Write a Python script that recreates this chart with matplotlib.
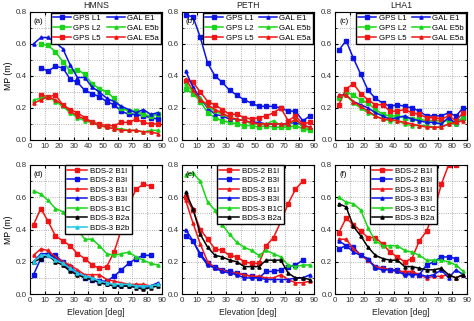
import matplotlib.pyplot as plt
from matplotlib.ticker import MultipleLocator

elev = [2.5, 7.5, 12.5, 17.5, 22.5, 27.5, 32.5, 37.5, 42.5, 47.5,
        52.5, 57.5, 62.5, 67.5, 72.5, 77.5, 82.5, 87.5]

# HMNS (a)
hmns_gps_l1 = [None, 0.45, 0.43, 0.46, 0.45, 0.38, 0.36, 0.31, 0.29, 0.27, 0.24, 0.22, 0.18, 0.16, 0.16, 0.15, 0.14, 0.13]
hmns_gps_l2 = [None, 0.60, 0.59, 0.55, 0.49, 0.43, 0.44, 0.41, 0.35, 0.32, 0.30, 0.26, 0.20, 0.18, 0.18, 0.16, 0.15, 0.16]
hmns_gps_l5 = [None, 0.28, 0.27, 0.28, 0.22, 0.19, 0.17, 0.14, 0.11, 0.10, 0.09, 0.09, 0.11, 0.11, 0.13, 0.11, 0.10, 0.10]
hmns_gal_e1 = [0.60, 0.64, 0.64, 0.61, 0.57, 0.47, 0.39, 0.39, 0.33, 0.30, 0.26, 0.24, 0.21, 0.19, 0.17, 0.19, 0.16, 0.17]
hmns_gal_e5b = [0.25, 0.26, 0.27, 0.24, 0.21, 0.17, 0.14, 0.12, 0.11, 0.09, 0.08, 0.07, 0.07, 0.06, 0.06, 0.05, 0.06, 0.06]
hmns_gal_e5a = [0.23, 0.25, 0.27, 0.25, 0.22, 0.18, 0.15, 0.13, 0.11, 0.09, 0.08, 0.07, 0.06, 0.06, 0.06, 0.05, 0.05, 0.04]

# PETH (b)
peth_gps_l1 = [0.78, 0.77, 0.64, 0.48, 0.40, 0.36, 0.31, 0.28, 0.25, 0.23, 0.21, 0.21, 0.21, 0.20, 0.18, 0.18, 0.12, 0.15]
peth_gps_l2 = [0.32, 0.29, 0.24, 0.17, 0.14, 0.12, 0.11, 0.10, 0.09, 0.09, 0.08, 0.09, 0.08, 0.08, 0.08, 0.09, 0.07, 0.06]
peth_gps_l5 = [0.37, 0.36, 0.30, 0.24, 0.22, 0.19, 0.16, 0.16, 0.14, 0.13, 0.14, 0.15, 0.17, 0.20, 0.12, 0.15, 0.10, 0.11]
peth_gal_e1 = [0.43, 0.33, 0.26, 0.20, 0.16, 0.15, 0.13, 0.13, 0.12, 0.11, 0.11, 0.10, 0.10, 0.10, 0.10, 0.11, 0.09, 0.08]
peth_gal_e5b = [0.35, 0.30, 0.26, 0.21, 0.18, 0.16, 0.14, 0.13, 0.12, 0.10, 0.10, 0.10, 0.12, 0.09, 0.09, 0.13, 0.08, 0.07]
peth_gal_e5a = [0.38, 0.31, 0.25, 0.22, 0.19, 0.17, 0.14, 0.13, 0.12, 0.11, 0.10, 0.10, 0.10, 0.10, 0.10, 0.13, 0.09, 0.08]

# LHA1 (c)
lha1_gps_l1 = [0.56, 0.62, 0.51, 0.41, 0.31, 0.26, 0.23, 0.21, 0.22, 0.21, 0.20, 0.18, 0.15, 0.15, 0.15, 0.17, 0.15, 0.20]
lha1_gps_l2 = [0.26, 0.30, 0.28, 0.25, 0.23, 0.19, 0.16, 0.15, 0.15, 0.14, 0.13, 0.13, 0.12, 0.12, 0.12, 0.12, 0.11, 0.14]
lha1_gps_l5 = [0.22, 0.32, 0.35, 0.29, 0.25, 0.22, 0.22, 0.18, 0.18, 0.19, 0.17, 0.16, 0.14, 0.14, 0.13, 0.15, 0.12, 0.17]
lha1_gal_e1 = [0.28, 0.28, 0.24, 0.22, 0.20, 0.17, 0.15, 0.13, 0.14, 0.15, 0.13, 0.12, 0.11, 0.11, 0.10, 0.14, 0.10, 0.14]
lha1_gal_e5b = [0.27, 0.28, 0.23, 0.20, 0.17, 0.15, 0.13, 0.12, 0.12, 0.10, 0.09, 0.09, 0.09, 0.08, 0.08, 0.10, 0.10, 0.14]
lha1_gal_e5a = [0.28, 0.28, 0.24, 0.21, 0.18, 0.15, 0.13, 0.13, 0.12, 0.11, 0.10, 0.09, 0.08, 0.08, 0.08, 0.10, 0.11, 0.12]

# HMNS BDS (d)
hmns_b2_b1i = [0.43, 0.53, 0.45, 0.36, 0.33, 0.30, 0.25, 0.22, 0.18, 0.16, 0.17, 0.26, 0.40, 0.55, 0.65, 0.68, 0.67, None]
hmns_b2_b3i = [0.12, 0.22, 0.24, 0.24, 0.20, 0.17, 0.13, 0.10, 0.09, 0.08, 0.08, 0.11, 0.15, 0.19, 0.22, 0.24, 0.24, None]
hmns_b3_b1i = [0.24, 0.28, 0.27, 0.23, 0.20, 0.18, 0.15, 0.12, 0.12, 0.12, 0.09, 0.08, 0.07, 0.06, 0.06, 0.06, 0.05, 0.06]
hmns_b3_b3i = [0.20, 0.25, 0.25, 0.22, 0.19, 0.15, 0.13, 0.11, 0.10, 0.08, 0.06, 0.05, 0.05, 0.05, 0.05, 0.04, 0.05, 0.07]
hmns_b3_b1c = [0.64, 0.62, 0.58, 0.53, 0.51, 0.45, 0.40, 0.34, 0.34, 0.30, 0.25, 0.24, 0.25, 0.26, 0.23, 0.21, 0.19, 0.18]
hmns_b3_b2a = [0.20, 0.22, 0.24, 0.20, 0.18, 0.14, 0.12, 0.10, 0.09, 0.07, 0.06, 0.05, 0.05, 0.05, 0.04, 0.03, 0.04, 0.05]
hmns_b3_b2b = [0.20, 0.24, 0.24, 0.21, 0.19, 0.16, 0.13, 0.11, 0.10, 0.08, 0.07, 0.06, 0.06, 0.06, 0.05, 0.05, 0.05, 0.06]

# PETH BDS (e)
peth_b2_b1i = [0.60, 0.52, 0.40, 0.34, 0.28, 0.27, 0.24, 0.23, 0.20, 0.19, 0.19, 0.30, 0.35, 0.45, 0.56, 0.65, 0.70, None]
peth_b2_b3i = [0.36, 0.33, 0.25, 0.19, 0.17, 0.15, 0.14, 0.13, 0.12, 0.11, 0.10, 0.14, 0.14, 0.15, 0.17, 0.18, 0.21, None]
peth_b3_b1i = [0.58, 0.44, 0.31, 0.20, 0.16, 0.15, 0.13, 0.13, 0.12, 0.11, 0.11, 0.10, 0.10, 0.12, 0.09, 0.07, 0.07, 0.08]
peth_b3_b3i = [0.40, 0.33, 0.24, 0.18, 0.16, 0.14, 0.13, 0.12, 0.10, 0.10, 0.10, 0.09, 0.09, 0.09, 0.09, 0.10, 0.10, 0.12]
peth_b3_b1c = [0.74, 0.75, 0.70, 0.57, 0.52, 0.43, 0.37, 0.32, 0.29, 0.27, 0.24, 0.27, 0.25, 0.23, 0.18, 0.17, 0.18, 0.18]
peth_b3_b2a = [0.63, 0.53, 0.37, 0.29, 0.24, 0.23, 0.21, 0.20, 0.17, 0.17, 0.17, 0.21, 0.21, 0.21, 0.13, 0.10, 0.10, 0.09]

# LHA1 BDS (f)
lha1_b2_b1i = [0.38, 0.47, 0.43, 0.39, 0.35, 0.35, 0.31, 0.26, 0.23, 0.20, 0.22, 0.33, 0.39, 0.51, 0.68, 0.80, 0.80, None]
lha1_b2_b3i = [0.28, 0.30, 0.29, 0.24, 0.21, 0.17, 0.16, 0.15, 0.15, 0.13, 0.13, 0.12, 0.18, 0.20, 0.23, 0.23, 0.22, None]
lha1_b3_b1i = [0.34, 0.34, 0.28, 0.24, 0.21, 0.17, 0.16, 0.15, 0.14, 0.14, 0.14, 0.12, 0.10, 0.11, 0.11, 0.12, 0.10, 0.12]
lha1_b3_b3i = [0.33, 0.30, 0.26, 0.24, 0.22, 0.16, 0.15, 0.15, 0.14, 0.12, 0.12, 0.12, 0.11, 0.12, 0.15, 0.10, 0.15, 0.12]
lha1_b3_b1c = [0.60, 0.57, 0.56, 0.52, 0.41, 0.33, 0.30, 0.30, 0.30, 0.27, 0.26, 0.24, 0.21, 0.21, 0.21, 0.20, 0.18, 0.14]
lha1_b3_b2a = [0.56, 0.54, 0.42, 0.36, 0.29, 0.24, 0.22, 0.21, 0.21, 0.17, 0.17, 0.16, 0.15, 0.15, 0.16, 0.12, 0.10, 0.12]

stations = ["HMNS", "PETH", "LHA1"]
gnss_labels = ["GPS L1", "GPS L2", "GPS L5", "GAL E1", "GAL E5b", "GAL E5a"]
bds_labels = ["BDS-2 B1I", "BDS-2 B3I", "BDS-3 B1I", "BDS-3 B3I", "BDS-3 B1C", "BDS-3 B2a", "BDS-3 B2b"]

gnss_data = [
    [hmns_gps_l1, hmns_gps_l2, hmns_gps_l5, hmns_gal_e1, hmns_gal_e5b, hmns_gal_e5a],
    [peth_gps_l1, peth_gps_l2, peth_gps_l5, peth_gal_e1, peth_gal_e5b, peth_gal_e5a],
    [lha1_gps_l1, lha1_gps_l2, lha1_gps_l5, lha1_gal_e1, lha1_gal_e5b, lha1_gal_e5a],
]
bds_data = [
    [hmns_b2_b1i, hmns_b2_b3i, hmns_b3_b1i, hmns_b3_b3i, hmns_b3_b1c, hmns_b3_b2a, hmns_b3_b2b],
    [peth_b2_b1i, peth_b2_b3i, peth_b3_b1i, peth_b3_b3i, peth_b3_b1c, peth_b3_b2a],
    [lha1_b2_b1i, lha1_b2_b3i, lha1_b3_b1i, lha1_b3_b3i, lha1_b3_b1c, lha1_b3_b2a],
]

blue, green, red = "#0a14e6", "#19d419", "#f01414"
gnss_styles = [(blue, "s"), (green, "s"), (red, "s"), (blue, "^"), (green, "^"), (red, "^")]
bds_styles = [(red, "s"), (blue, "s"), (red, "^"), (blue, "^"), (green, "^"), ("black", "^"), ("#20c8e0", "^")]

plt.rcParams["font.family"] = "Liberation Sans"
plt.rcParams["font.size"] = 6

fig = plt.figure(figsize=(4.74, 3.21), dpi=100)
lefts = [0.063, 0.384, 0.707]
width = 0.278
rows = [(0.564, 0.399), (0.084, 0.402)]
letters = "abcdef"


def style_axis(ax):
    ax.set_xlim(0, 90)
    ax.set_ylim(0, 0.8)
    ax.xaxis.set_major_locator(MultipleLocator(10))
    ax.yaxis.set_major_locator(MultipleLocator(0.2))
    ax.yaxis.set_minor_locator(MultipleLocator(0.1))
    ax.yaxis.set_major_formatter(plt.FormatStrFormatter("%.1f"))
    ax.tick_params(which="both", direction="in", top=True, right=True, length=2, pad=2,
                   labelsize=5.8, labelcolor="#333333")
    ax.tick_params(which="minor", length=1.2)
    ax.grid(True, which="both", color="#9a9a9a", linestyle=":", linewidth=0.6)
    ax.set_axisbelow(True)


def plot_series(ax, data, labels, styles):
    for vals, lab, (c, m) in zip(data, labels, styles):
        xs = [x for x, v in zip(elev, vals) if v is not None]
        ys = [v for v in vals if v is not None]
        ax.plot(xs, ys, color=c, marker=m, markersize=2.3, linewidth=1.1, label=lab)


for i in range(3):
    ax = fig.add_axes([lefts[i], rows[0][0], width, rows[0][1]])
    style_axis(ax)
    plot_series(ax, gnss_data[i], gnss_labels, gnss_styles)
    ax.set_title(stations[i], fontsize=6.3, pad=3, color="#222222")
    ax.legend(ncol=2, loc="upper right", fontsize=5.7, handlelength=2.3, columnspacing=0.7,
              handletextpad=0.3, labelspacing=0.3, borderpad=0.25, fancybox=False,
              edgecolor="black", framealpha=1, borderaxespad=0.1)
    ax.text(0.03, 0.95, "(%s)" % letters[i], transform=ax.transAxes, va="top", fontsize=5.7)
    if i == 0:
        ax.set_ylabel("MP (m)", fontsize=6.2, labelpad=2)

    axb = fig.add_axes([lefts[i], rows[1][0], width, rows[1][1]])
    style_axis(axb)
    n = len(bds_data[i])
    plot_series(axb, bds_data[i], bds_labels[:n], bds_styles[:n])
    axb.set_xlabel("Elevation [deg]", fontsize=6.2, labelpad=3, color="#222222")
    axb.legend(loc="upper center", bbox_to_anchor=(0.52, 1.0), fontsize=5.7, handlelength=2.6,
               handletextpad=0.3, labelspacing=0.25, borderpad=0.25, fancybox=False,
               edgecolor="black", framealpha=1, borderaxespad=0.0)
    axb.text(0.03, 0.95, "(%s)" % letters[i + 3], transform=axb.transAxes, va="top", fontsize=5.7)
    if i == 0:
        axb.set_ylabel("MP (m)", fontsize=6.2, labelpad=2)

fig.savefig("out.png", dpi=100)
